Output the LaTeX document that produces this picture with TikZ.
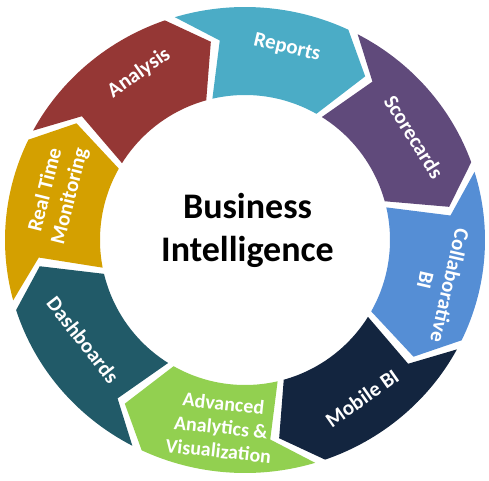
\documentclass[tikz,border=0pt]{standalone}
\usepackage{fontspec}
\setmainfont{Carlito}
\definecolor{cRep}{HTML}{4BACC6}
\definecolor{cSco}{HTML}{604A7B}
\definecolor{cCol}{HTML}{558ED5}
\definecolor{cMob}{HTML}{13253F}
\definecolor{cAdv}{HTML}{92D050}
\definecolor{cDas}{HTML}{215A68}
\definecolor{cRea}{HTML}{D4A000}
\definecolor{cAna}{HTML}{953735}
% #1 colour, #2 tail boundary angle, #3 head boundary angle
\newcommand\ringseg[3]{%
  \fill[#1] (#2+7.5:240pt and 233pt)
    arc[start angle=#2+7.5, end angle=#3+10, x radius=240pt, y radius=233pt]
    -- (#3:207pt and 201pt)
    -- (#3+6:145pt and 145pt)
    arc[start angle=#3+6, end angle=#2+3.5, radius=145pt]
    -- (#2-2.5:207pt and 201pt) -- cycle;}
\begin{document}
\begin{tikzpicture}[x=1pt,y=1pt,
  lab/.style={text=white,font=\bfseries\fontsize{21}{25}\selectfont,align=center,inner sep=0pt},
  mid/.style={text=black,font=\bfseries\fontsize{36}{40}\selectfont,anchor=base,inner sep=0pt}]
\useasboundingbox (-245,-240) rectangle (244,240);
\ringseg{cRep}{99.5}{54.5}
\ringseg{cSco}{54.5}{9.5}
\ringseg{cCol}{9.5}{-35.5}
\ringseg{cMob}{-35.5}{-80.5}
\ringseg{cAdv}{-80.5}{-125.5}
\ringseg{cDas}{-125.5}{-172.5}
\ringseg{cRea}{-172.5}{-215.5}
\ringseg{cAna}{144.5}{99.5}
\node[mid] (t1) at (2.5,22) {Business};
\node[mid] (t2) at (2.5,-21) {Intelligence};
\node[lab,rotate=-13] (rep) at (42,192) {Reports};
\node[lab,rotate=35] (ana) at (-106,167) {Analysis};
\node[lab,rotate=-58] (sco) at (169,103) {Scorecards};
\node[lab,rotate=-103] (col) at (193,-43) {Collaborative\\BI};
\node[lab,rotate=35] (mob) at (117,-158) {Mobile BI};
\node[lab,rotate=-6,font=\bfseries\fontsize{20}{24}\selectfont] (adv) at (-24,-187) {Advanced\\Analytics \&\\Visualization};
\node[lab,rotate=-52] (das) at (-162,-100) {Dashboards};
\node[lab,rotate=76] (rea) at (-187,47) {Real Time\\Monitoring};
\end{tikzpicture}
\end{document}
